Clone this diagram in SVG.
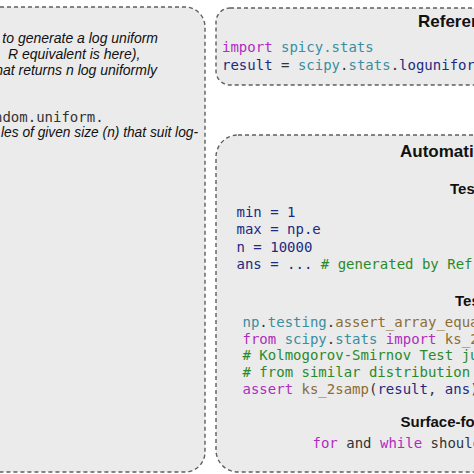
<svg xmlns="http://www.w3.org/2000/svg" width="474" height="474" viewBox="0 0 474 474">
<style>
.box{fill:#ebebeb;stroke:#5f5f5f;stroke-width:1.4;stroke-dasharray:4 3}
.it{font-family:"Liberation Sans",Arial,sans-serif;font-style:italic;font-size:14px;fill:#111}
.mono{font-family:"DejaVu Sans Mono",monospace;font-size:14px;fill:#333}
.h1{font-family:"Liberation Sans",Arial,sans-serif;font-weight:bold;font-size:17px;fill:#111}
.h2{font-family:"Liberation Sans",Arial,sans-serif;font-weight:bold;font-size:15px;fill:#111}
.kw{fill:#b02cc0}
.mod{fill:#3a8ea0}
.var{fill:#1d2a80}
.fn{fill:#8b6d35}
.cm{fill:#2a8a2a}
.pl{fill:#333}
</style>
<rect width="474" height="474" fill="#ffffff"/>

<g id="left-panel">
<rect class="box" x="-20" y="7" width="225" height="465" rx="20"/>
<text class="it" x="158" y="42.7" text-anchor="end">to generate a log uniform</text>
<text class="it" x="8" y="58.5">R equivalent is here),</text>
<text class="it" x="157" y="74.5" text-anchor="end">that returns n log uniformly</text>
<text class="mono" x="-6" y="121.5" fill="#222">ndom.uniform.</text>
<text class="it" x="1" y="137" textLength="197" lengthAdjust="spacingAndGlyphs">les of given size (n) that suit log-</text>
</g>

<g id="reference-panel">
<rect class="box" x="216" y="8" width="280" height="77" rx="14"/>
<text class="h1" x="418" y="27">Reference</text>
<text class="mono" x="222" y="52" xml:space="preserve"><tspan class="kw">import</tspan> <tspan class="mod">spicy.stats</tspan></text>
<text class="mono" x="222" y="70" xml:space="preserve"><tspan class="var">result</tspan><tspan class="pl"> = </tspan><tspan class="mod">scipy</tspan><tspan class="pl">.</tspan><tspan class="mod">stats</tspan><tspan class="pl">.</tspan><tspan class="var">loguniform</tspan></text>
</g>

<g id="automation-panel">
<rect class="box" x="216" y="135" width="280" height="337" rx="22"/>
<text class="h1" x="400" y="157">Automatic</text>
<text class="h2" x="450" y="194">Test</text>
<text class="mono var" x="236.5" y="216.5">min = 1</text>
<text class="mono var" x="236.5" y="234">max = np.e</text>
<text class="mono var" x="236.5" y="251.5">n = 10000</text>
<text class="mono" x="236.5" y="269" xml:space="preserve"><tspan class="var">ans = ... </tspan><tspan class="cm"># generated by Ref</tspan></text>
<text class="h2" x="455" y="305.5">Test</text>
<text class="mono" x="242.5" y="327" xml:space="preserve"><tspan class="mod">np</tspan><tspan class="pl">.</tspan><tspan class="mod">testing</tspan><tspan class="pl">.</tspan><tspan class="fn">assert_array_equal</tspan></text>
<text class="mono" x="242.5" y="343.7" xml:space="preserve"><tspan class="kw">from</tspan> <tspan class="mod">scipy</tspan><tspan class="pl">.</tspan><tspan class="mod">stats</tspan> <tspan class="kw">import</tspan> <tspan class="fn">ks_2samp</tspan></text>
<text class="mono cm" x="242.5" y="360.4"># Kolmogorov-Smirnov Test just</text>
<text class="mono cm" x="242.5" y="377.1"># from similar distribution</text>
<text class="mono" x="242.5" y="393.8" xml:space="preserve"><tspan class="kw">assert</tspan> <tspan class="fn">ks_2samp</tspan><tspan class="pl">(</tspan><tspan class="var">result</tspan><tspan class="pl">, </tspan><tspan class="var">ans</tspan><tspan class="pl">)</tspan></text>
<text class="h2" x="400.5" y="427">Surface-form</text>
<text class="mono" x="312.5" y="448" xml:space="preserve"><tspan class="kw">for</tspan><tspan class="pl"> and </tspan><tspan class="kw">while</tspan><tspan class="pl"> should</tspan></text>
</g>
</svg>
